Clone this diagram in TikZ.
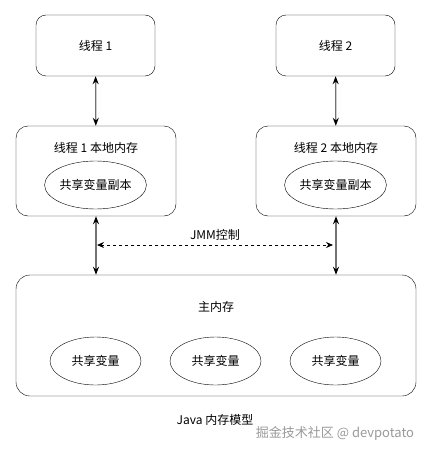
\documentclass[tikz,border=0pt]{standalone}
\usepackage{fontspec}
\setmainfont{Noto Sans CJK SC}
\usetikzlibrary{arrows.meta,shapes.geometric}
\tikzstyle{thread}=[draw,rounded corners=10pt,minimum width=119pt,minimum height=61pt,inner sep=0pt]
\tikzstyle{localmem}=[draw,rounded corners=12pt,minimum width=160pt,minimum height=90pt,inner sep=0pt]
\tikzstyle{mainmem}=[draw,rounded corners=14pt,minimum width=400pt,minimum height=121pt,inner sep=0pt]
\tikzstyle{var}=[draw,ellipse,minimum width=91pt,minimum height=48pt,inner sep=0pt]
\tikzstyle{link}=[draw=black!55,line width=1.3pt,{Stealth[length=8pt,width=6pt,color=black]}-{Stealth[length=8pt,width=6pt,color=black]}]
\tikzstyle{jmm}=[dashed,line width=0.8pt,{Stealth[length=7pt,width=6pt]}-{Stealth[length=7pt,width=6pt]}]

\begin{document}
\begin{tikzpicture}[x=1pt,y=-1pt,font=\fontsize{12}{14}\selectfont]
    \useasboundingbox (0,0) rectangle (431,452);
    \node[thread] (t1) at (95.5,45.5) {线程 1};
    \node[thread] (t2) at (335.5,45.5) {线程 2};
    \node[localmem] (lm1) at (96,171) {};
    \node[localmem] (lm2) at (336,171) {};
    \node (lm1l) at (96,148) {线程 1 本地内存};
    \node (lm2l) at (336,148) {线程 2 本地内存};
    \node[var] (c1) at (95.5,185) {共享变量副本};
    \node[var] (c2) at (335.5,185) {共享变量副本};
    \node[mainmem] (mm) at (216,335.5) {};
    \node (mml) at (216,307) {主内存};
    \node[var] (v1) at (95.5,361) {共享变量};
    \node[var] (v2) at (215.5,361) {共享变量};
    \node[var] (v3) at (335.5,361) {共享变量};
    \node (cap) at (215,420) {Java 内存模型};
    \node[text=black!40,font=\fontsize{13}{15}\selectfont] (wm) at (335,433) {掘金技术社区 @ devpotato};
    \coordinate (j1) at (97,245);
    \coordinate (j2) at (333,245);

    \foreach \from/\to in {t1/lm1,t2/lm2}
    \draw[link] (\from) -- (\to);
    \draw[link] (lm1.south) -- (lm1.south |- mm.north);
    \draw[link] (lm2.south) -- (lm2.south |- mm.north);
    \draw[jmm] (j1) -- node[above=1pt] {JMM控制} (j2);
\end{tikzpicture}
\end{document}
